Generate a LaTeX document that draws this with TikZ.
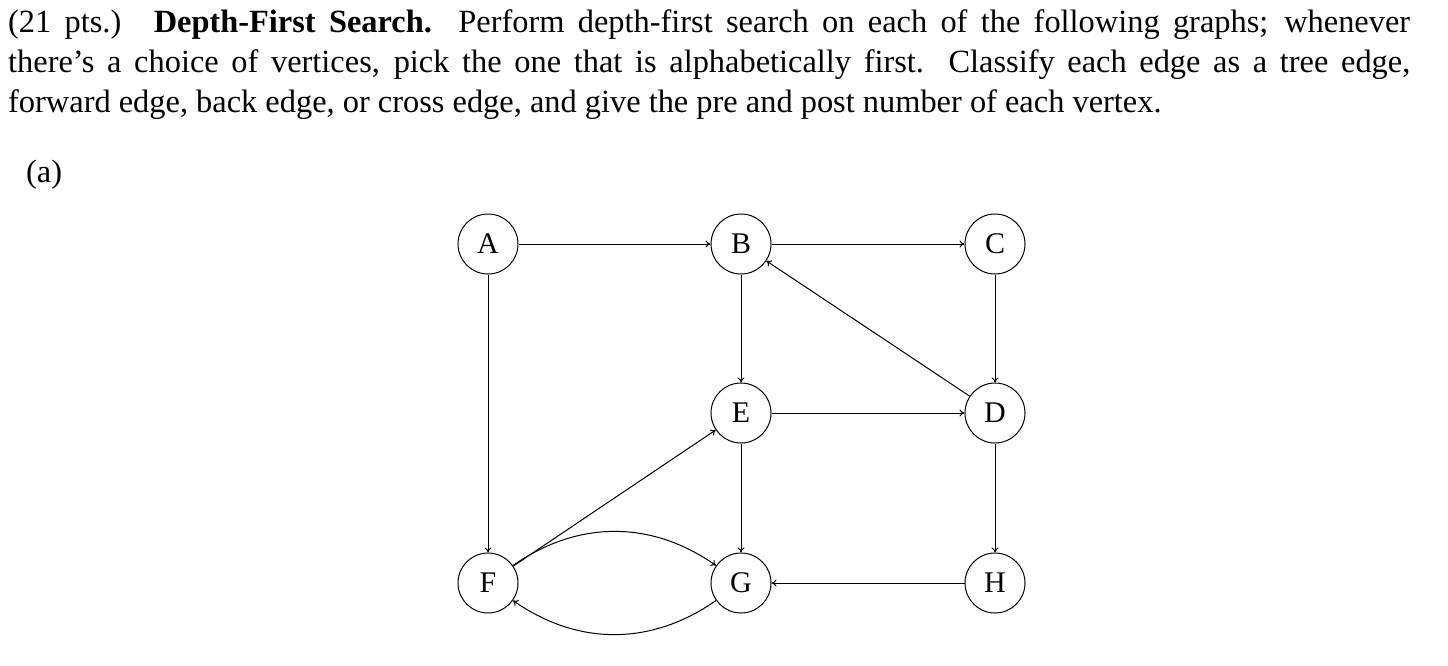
\documentclass[tikz,border=0pt]{standalone}
\usepackage{fontspec}
\setmainfont{Liberation Serif}
\usetikzlibrary{arrows.meta}
\begin{document}
\begin{tikzpicture}[x=1pt,y=-1pt,
  vtx/.style={draw,circle,minimum size=60pt,inner sep=0pt,line width=1pt,font=\fontsize{30}{30}\selectfont},
  edge/.style={-{To[length=5pt,width=7pt]},line width=1pt},
  txt/.style={anchor=west,inner sep=0pt,font=\fontsize{32.4}{40}\selectfont}]
\useasboundingbox (0,0) rectangle (1448,666);
\node[txt] (l1) at (8,25) {\makebox[1402pt][s]{(21 pts.)\quad\textbf{Depth-First Search.} Perform depth-first search on each of the following graphs; whenever}};
\node[txt] (l2) at (8,65) {\makebox[1402pt][s]{there’s a choice of vertices, pick the one that is alphabetically first. Classify each edge as a tree edge,}};
\node[txt] (l3) at (8,105) {forward edge, back edge, or cross edge, and give the pre and post number of each vertex.};
\node[txt] (la) at (26,175) {(a)};
\node[vtx] (A) at (488,244) {A};
\node[vtx] (B) at (741,244) {B};
\node[vtx] (C) at (995,244) {C};
\node[vtx] (E) at (741,413) {E};
\node[vtx] (D) at (995,413) {D};
\node[vtx] (F) at (488,583) {F};
\node[vtx] (G) at (741,583) {G};
\node[vtx] (H) at (995,583) {H};
\draw[edge] (A)--(B);
\draw[edge] (B)--(C);
\draw[edge] (A)--(F);
\draw[edge] (B)--(E);
\draw[edge] (C)--(D);
\draw[edge] (D)--(B);
\draw[edge] (E)--(D);
\draw[edge] (E)--(G);
\draw[edge] (D)--(H);
\draw[edge] (H)--(G);
\draw[edge] (F)--(E);
\draw[edge] (F) to[bend left=35] (G);
\draw[edge] (G) to[bend left=35] (F);
\end{tikzpicture}
\end{document}
